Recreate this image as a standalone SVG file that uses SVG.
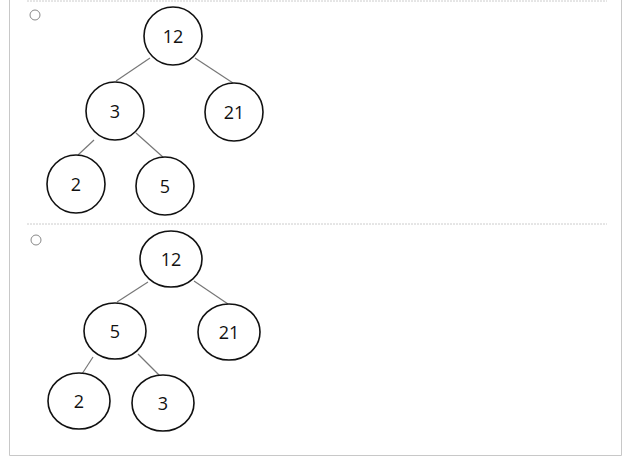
<svg xmlns="http://www.w3.org/2000/svg" width="625" height="457" viewBox="0 0 625 457">
<style>
.n{fill:#fff;stroke:#111;stroke-width:1.6}
.t{font-family:"Open Sans","Liberation Sans",Arial,sans-serif;font-size:18px;text-anchor:middle;dominant-baseline:central;fill:#111}
.e{stroke:#777;stroke-width:1.2}
.r{fill:#fff;stroke:#888;stroke-width:1}
.sep{stroke:#ccc;stroke-width:1;stroke-dasharray:2 1}
</style>
<rect x="0" y="0" width="625" height="457" fill="#fff"/>
<path d="M9.5 0V455.5H621.5V0" fill="none" stroke="#c8c8c8"/>
<line class="sep" x1="27" y1="1" x2="607" y2="1"/>
<line class="sep" x1="27" y1="224" x2="607" y2="224"/>
<circle class="r" cx="35" cy="15" r="5"/>
<circle class="r" cx="36" cy="240" r="5"/>
<g id="connectors">
<line class="e" x1="150" y1="58" x2="116" y2="81"/>
<line class="e" x1="195" y1="58" x2="233" y2="83"/>
<line class="e" x1="94" y1="140" x2="78" y2="155"/>
<line class="e" x1="136" y1="133" x2="164" y2="158"/>
<line class="e" x1="148" y1="282" x2="117" y2="302"/>
<line class="e" x1="194" y1="281" x2="228" y2="304"/>
<line class="e" x1="93" y1="357" x2="80" y2="377"/>
<line class="e" x1="138" y1="354" x2="162" y2="378"/>
</g>
<g id="a12"><circle class="n" cx="173" cy="36" r="29"/><text class="t" x="173" y="36">12</text></g>
<g id="a3"><circle class="n" cx="115" cy="111" r="29"/><text class="t" x="115" y="111">3</text></g>
<g id="a21"><circle class="n" cx="234" cy="112" r="29"/><text class="t" x="234" y="112">21</text></g>
<g id="a2"><circle class="n" cx="76" cy="184" r="29"/><text class="t" x="76" y="184">2</text></g>
<g id="a5"><circle class="n" cx="165" cy="186" r="29"/><text class="t" x="165" y="186">5</text></g>
<g id="b12"><ellipse class="n" cx="171" cy="259" rx="31" ry="28"/><text class="t" x="171" y="259">12</text></g>
<g id="b5"><ellipse class="n" cx="115" cy="331" rx="31" ry="28"/><text class="t" x="115" y="331">5</text></g>
<g id="b21"><ellipse class="n" cx="229" cy="332" rx="31" ry="28"/><text class="t" x="229" y="332">21</text></g>
<g id="b2"><ellipse class="n" cx="79" cy="401" rx="31" ry="28"/><text class="t" x="79" y="401">2</text></g>
<g id="b3"><ellipse class="n" cx="163" cy="403" rx="31" ry="28"/><text class="t" x="163" y="403">3</text></g>
</svg>
